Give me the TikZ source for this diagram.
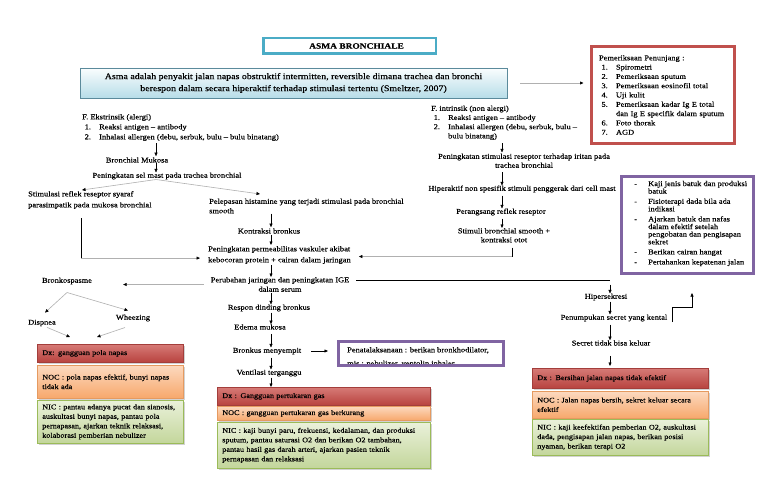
\documentclass[tikz,border=0pt]{standalone}
\usepackage{fontspec}
\setmainfont{Liberation Serif}[FakeStretch=1.15,FakeBold=0.4]
\usetikzlibrary{arrows.meta,shadows}
\definecolor{tealb}{HTML}{4BACC6}
\definecolor{redb}{HTML}{C0504D}
\definecolor{purb}{HTML}{8064A2}
\definecolor{dxt}{HTML}{D67A76}
\definecolor{dxb}{HTML}{B8433F}
\definecolor{dxd}{HTML}{A33E3B}
\definecolor{noct}{HTML}{FCD9BF}
\definecolor{nocb}{HTML}{F7A86C}
\definecolor{nocd}{HTML}{E59A60}
\definecolor{nict}{HTML}{EAF1DA}
\definecolor{nicb}{HTML}{C3D69B}
\definecolor{nicd}{HTML}{9BBB59}
\definecolor{int}{HTML}{FAFDFE}
\definecolor{inb}{HTML}{B7DDE8}
\definecolor{ind}{HTML}{5B8A9B}
\definecolor{lgray}{HTML}{B0B0B0}
\newcommand\fs{\fontsize{7.3}{10}\selectfont}
\newcommand\nm[1]{\makebox[17pt][l]{\hspace{2.5pt}#1}}
\newcommand\dsh{\makebox[14pt][l]{-}}
\begin{document}
\begin{tikzpicture}[x=1pt,y=-1pt,
  t/.style={font=\fs, inner sep=0pt, align=left},
  tc/.style={font=\fs, inner sep=0pt, align=center},
  arr/.style={-{Triangle[length=3.5pt,width=3pt]}, line width=0.45pt},
  garr/.style={-{Triangle[length=3.5pt,width=3pt,color=black]}, line width=0.6pt, draw=lgray},
  sh/.style={drop shadow={opacity=0.35, shadow xshift=1.2pt, shadow yshift=-1.2pt}},
  bx/.style={anchor=north west, inner xsep=5pt, inner ysep=0pt, align=left, font=\fontsize{7.1}{9.5}\selectfont, line width=0.6pt, sh},
  dxbox/.style={bx, top color=dxt, bottom color=dxb, draw=dxd},
  nocbox/.style={bx, top color=noct, bottom color=nocb, draw=nocd},
  nicbox/.style={bx, top color=nict, bottom color=nicb, draw=nicd},
]
\useasboundingbox (0,0) rectangle (768,489);
\fill[white] (0,0) rectangle (768,489);

% x positions for vertical arrows
\coordinate (xA) at (156,0);
\coordinate (xM) at (271,0);
\coordinate (xR) at (502,0);
\coordinate (xH) at (610,0);
\coordinate (xP) at (692,0);

% title and intro
\node[font=\fontsize{8.2}{9}\selectfont\bfseries, draw=tealb, line width=2.5pt, minimum width=172.5pt, minimum height=15.5pt, inner sep=0pt] (title) at (349.5,46) {\hspace*{14pt}ASMA BRONCHIALE};
\node[font=\fontsize{8.6}{12}\selectfont, align=center, draw=ind, line width=0.7pt, top color=int, bottom color=inb, minimum width=427pt, minimum height=30pt, inner sep=0pt, sh] (intro) at (293.5,83) {Asma adalah penyakit  jalan napas obstruktif intermitten, reversible dimana trachea dan bronchi\\berespon dalam secara hiperaktif terhadap stimulasi  tertentu (Smeltzer, 2007)};

% pemeriksaan penunjang
\node[draw=redb, line width=3pt, font=\fontsize{7.3}{9.3}\selectfont, align=left, text width=127pt, inner xsep=8pt, inner ysep=0pt, minimum height=97pt] (pp) at (662.5,95) {Pemeriksaan Penunjang :\\ \nm{1.}Spirometri\\ \nm{2.}Pemeriksaan sputum\\ \nm{3.}Pemeriksaan eosinofil total\\ \nm{4.}Uji kulit\\ \nm{5.}Pemeriksaan  kadar Ig E  total\\ \hspace*{17pt}dan Ig E specifik dalam sputum\\ \nm{6.}Foto thorak\\ \nm{7.}AGD};
\draw[garr] ([xshift=13pt]intro.east) -- ([xshift=-6pt]intro.east -| pp.west);

% left / middle column
\node[t, font=\fontsize{7.3}{10}\selectfont, anchor=north west] (ext) at (82,114) {F. Ekstrinsik (alergi)\\ \nm{1.}Reaksi antigen – antibody\\ \nm{2.}Inhalasi allergen (debu, serbuk,  bulu – bulu binatang)};
\node[t] (bm) at (137,160) {Bronchial Mukosa};
\node[t] (psm) at (167,176) {Peningkatan sel mast pada trachea bronchial};
\node[t, anchor=north west, font=\fontsize{7.3}{11}\selectfont] (str) at (28,191) {Stimulasi reflek reseptor syaraf\\parasimpatik pada mukosa bronchial};
\node[t, anchor=north west, font=\fontsize{7.3}{9.5}\selectfont] (pel) at (209,198.5) {Pelepasan histamine yang terjadi stimulasi pada bronchial\\smooth};
\node[t] (kb) at (269,231) {Kontraksi bronkus};
\node[t, anchor=north west, font=\fontsize{7.3}{11}\selectfont] (ppv) at (208,246) {Peningkatan permeabilitas vaskuler akibat\\kebocoran protein + cairan dalam jaringan};
\node[tc, anchor=north, font=\fontsize{7.3}{9.5}\selectfont] (pj) at (280,277) {Perubahan jaringan dan peningkatan IGE\\dalam serum};
\node[t] (rdb) at (269,308) {Respon dinding bronkus};
\node[t] (em) at (260,327) {Edema mukosa};
\node[t] (bkm) at (267,351) {Bronkus menyempit};
\node[t] (vt) at (269,373) {Ventilasi terganggu};

\node[t] (bsp) at (67,281) {Bronkospasme};
\node[t] (dsp) at (42,323) {Dispnea};
\node[t] (whz) at (133,318) {Wheezing};

% left boxes
\node[dxbox, text width=136pt, minimum height=18pt] (dxl) at (37,344) {Dx: gangguan pola napas};
\node[nocbox, text width=136pt, minimum height=33pt] (nocl) at (37,365) {NOC  : pola napas efektif, bunyi napas\\tidak ada};
\node[nicbox, text width=136pt, minimum height=43pt] (nicl) at (37,400) {NIC  : pantau adanya pucat dan sianosis,\\auskultasi bunyi napas, pantau pola\\pernapasan, ajarkan teknik relaksasi,\\kolaborasi pemberian nebulizer};

% middle boxes
\node[dxbox, text width=203pt, minimum height=18pt] (dxm) at (217,387) {Dx : Gangguan pertukaran gas};
\node[nocbox, text width=203pt, minimum height=14pt] (nocm) at (217,406) {NOC  : gangguan pertukaran gas  berkurang};
\node[nicbox, text width=203pt, minimum height=46pt] (nicm) at (217,422) {NIC  : kaji bunyi paru, frekuensi,  kedalaman, dan produksi\\sputum, pantau saturasi O2 dan berikan O2 tambahan,\\pantau hasil gas darah arteri, ajarkan pasien teknik\\pernapasan dan relaksasi};

% penatalaksanaan box (text cut by the box)
\begin{scope}
\clip (338.5,341.5) rectangle (503.5,364);
\node[t, anchor=north west, font=\fontsize{7.3}{13.5}\selectfont] (pentxt) at (347,347) {Penatalaksanaan : berikan bronkhodilator,\\mis : nebulizer, ventolin inhaler};
\end{scope}
\node[draw=purb, line width=3pt, minimum width=165pt, minimum height=24pt, inner sep=0pt] (pen) at (421,353.5) {};

% right column
\node[t, anchor=north west, font=\fontsize{7.3}{9.2}\selectfont] (fin) at (431,105.5) {F. intrinsik  (non alergi)\\ \nm{1.}Reaksi antigen – antibody\\ \nm{2.}Inhalasi allergen (debu, serbuk,  bulu –\\ \hspace*{17pt}bulu binatang)};
\node[tc, anchor=north, font=\fontsize{7.3}{9}\selectfont] (pstm) at (524,153.5) {Peningkatan stimulasi reseptor terhadap iritan pada\\trachea bronchial};
\node[t] (hns) at (522,189) {Hiperaktif non spesifik stimuli penggerak dari cell mast};
\node[t] (prr) at (501,212) {Perangsang reflek reseptor};
\node[tc, anchor=north, font=\fontsize{7.3}{9}\selectfont] (sbs) at (504,228) {Stimuli bronchial smooth +\\kontraksi otot};

\node[t] (hs) at (606,297) {Hipersekresi};
\node[t] (psyk) at (614,318) {Penumpukan secret yang kental};
\node[t] (stbk) at (611,343) {Secret tidak bisa  keluar};

\node[draw=purb, line width=3pt, minimum width=132pt, minimum height=97pt, inner sep=0pt] (pb) at (687.5,225) {};
\node[t, anchor=west, font=\fontsize{7.3}{7.6}\selectfont] (pbt) at (634,223.5) {\dsh Kaji jenis batuk dan produksi\\ \hspace*{14pt}batuk\\[2.5pt] \dsh Fisioterapi dada bila ada\\ \hspace*{14pt}indikasi\\[2.5pt] \dsh Ajarkan batuk dan nafas\\ \hspace*{14pt}dalam efektif setelah\\ \hspace*{14pt}pengobatan dan pengisapan\\ \hspace*{14pt}sekret\\[2.5pt] \dsh Berikan cairan hangat\\[2.5pt] \dsh Pertahankan kepatenan jalan};

% right boxes
\node[dxbox, text width=166pt, minimum height=20pt] (dxr) at (532,368) {Dx : Bersihan jalan napas tidak efektif};
\node[nocbox, text width=166pt, minimum height=27pt] (nocr) at (532,391) {NOC  : Jalan napas  bersih, sekret keluar secara\\efektif};
\node[nicbox, text width=166pt, minimum height=36pt] (nicr) at (532,419) {NIC  : kaji keefektifan pemberian O2, auskultasi\\dada, pengisapan jalan napas, berikan posisi\\nyaman, berikan terapi O2};

% ---- connectors ----
\draw[arr, shorten <=2pt, shorten >=1pt] (ext.south -| xA) -- (bm.north -| xA);
\draw[arr] (bm.south -| xA) -- (psm.north -| xA);
\draw[garr] (psm.south -| xA) -- ([xshift=54pt,yshift=1pt]str.north west);
\draw[garr] (psm.south -| xA) -- ([xshift=51pt,yshift=4.5pt]pel.north west);
\draw[arr, shorten >=1pt] (pel.south -| xM) -- (kb.north -| xM);
\draw[arr, shorten <=1pt, shorten >=1pt] (kb.south -| xM) -- (ppv.north -| xM);
\draw[arr, shorten <=1pt] (ppv.south -| xM) -- (pj.north -| xM);
\draw[arr, shorten <=1pt] (pj.south -| xM) -- (rdb.north -| xM);
\draw[arr, shorten <=1pt] (rdb.south -| xM) -- (em.north -| xM);
\draw[arr, shorten <=4pt] (em.south -| xM) -- (bkm.north -| xM);
\draw[arr, shorten <=3pt] (bkm.south -| xM) -- (vt.north -| xM);
\draw[arr, shorten <=1pt] (vt.south -| xM) -- (dxm.north -| xM);
\draw[arr] ([xshift=10pt]bkm.east) -- ([xshift=-9pt]bkm.east -| pen.west);

\coordinate (v1) at ([xshift=53pt,yshift=-9pt]str.south west);
\draw (v1) -- ++(0,40) coordinate (v2);
\draw[garr, shorten >=8pt] (v2) -- (v2 -| ppv.west);
\coordinate (r1) at ([xshift=8pt,yshift=-5pt]sbs.south);
\draw (r1) -- ++(0,9) coordinate (r2);
\draw[garr, shorten >=8pt] (r2) -- (r2 -| ppv.east);

\draw[garr, shorten >=31pt] ([xshift=-7pt]pj.west) -- (bsp.east |- pj.west);
\draw[garr] ([yshift=-8pt]bsp.south) -- ([xshift=3pt,yshift=7pt]dsp.north);
\draw[garr] ([yshift=-8pt]bsp.south) -- ([xshift=-5pt,yshift=4pt]whz.north);
\draw[garr] ([xshift=5pt,yshift=-1pt]dsp.south) -- ([xshift=33pt,yshift=7pt]dxl.north west);
\draw[garr] ([xshift=-8pt,yshift=-6pt]whz.south) -- ([xshift=60pt,yshift=7pt]dxl.north west);

\draw ([xshift=7pt,yshift=4pt]pj.east) coordinate (h0) -- (h0 -| xH) coordinate (h1);
\draw[arr] ([yshift=-4pt]h1) -- (hs.north -| xH);
\draw[arr, shorten <=1pt] (hs.south -| xH) -- (psyk.north -| xH);
\draw[arr, shorten <=3pt] (psyk.south -| xH) -- (stbk.north -| xH);
\draw[arr, shorten <=10pt, shorten >=2pt] (stbk.south -| xH) -- (dxr.north -| xH);
\coordinate (q) at ([yshift=11pt]psyk.east);
\draw[arr, shorten >=18pt] ([xshift=5pt,yshift=-4pt]psyk.east) |- (q -| xP) -- (pb.south -| xP);

\draw[arr, shorten <=3pt, shorten >=1pt] (fin.south -| xR) -- (pstm.north -| xR);
\draw[arr, shorten <=4pt] (pstm.south -| xR) -- (hns.north -| xR);
\draw[arr, shorten <=3pt] (hns.south -| xR) -- (prr.north -| xR);
\draw[arr, shorten <=3pt] (prr.south -| xR) -- (sbs.north -| xR);
\end{tikzpicture}
\end{document}
